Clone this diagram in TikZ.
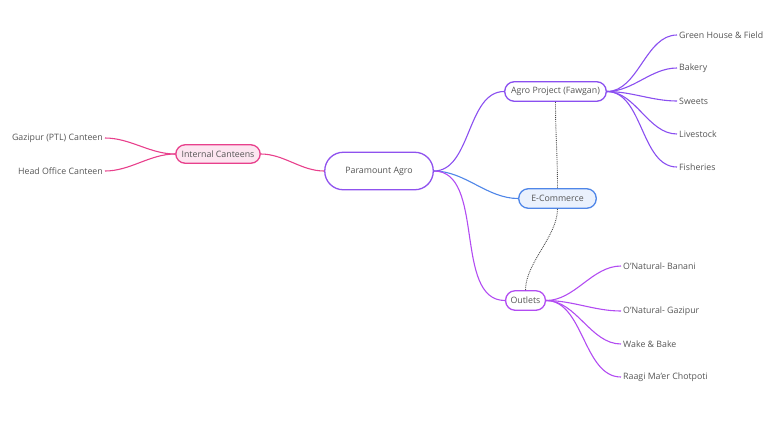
\documentclass[tikz,border=0pt]{standalone}
\usepackage{fontspec}
\setmainfont{Open Sans}
\usepackage{tikz}
\definecolor{txtgray}{HTML}{555555}
\definecolor{agroline}{HTML}{8A4FF0}
\definecolor{outletline}{HTML}{B24CF2}
\definecolor{canteenline}{HTML}{E8408C}
\definecolor{canteenfill}{HTML}{FCE5F0}
\definecolor{ecomline}{HTML}{4F86E8}
\definecolor{ecomfill}{HTML}{EAF1FD}
\definecolor{rootline}{HTML}{8F52EE}

\begin{document}
\begin{tikzpicture}[
    x=1pt, y=-1pt,
    font=\fontsize{8.8}{10}\selectfont, text=txtgray,
    topic/.style={draw, rounded corners=9.5pt, line width=1.3pt, minimum height=19.5pt, inner xsep=5pt, fill=white},
    leaf/.style={inner sep=2pt},
    branch/.style={line width=1.1pt, out=0, in=180, looseness=0.9},
    rbranch/.style={line width=1.1pt, out=180, in=0, looseness=0.9}
]
\useasboundingbox (0,0) rectangle (768,432);

% centre topic
\node[topic, draw=rootline, rounded corners=18.5pt, minimum width=108.5pt, minimum height=37.5pt] (root) at (379,171) {Paramount Agro};

% main branches
\node[topic, draw=canteenline, fill=canteenfill, minimum width=84.5pt, minimum height=18.5pt] (canteens) at (218,154) {Internal Canteens};
\node[topic, draw=agroline, minimum width=101.5pt] (agro) at (555.5,91.5) {Agro Project (Fawgan)};
\node[topic, draw=ecomline, fill=ecomfill, minimum width=77.5pt] (ecom) at (557.5,198.5) {E-Commerce};
\node[topic, draw=outletline, minimum width=39.5pt] (outlets) at (525.5,300.5) {Outlets};

% canteen leaves
\node[leaf, anchor=east] (ptl) at (105,138) {Gazipur (PTL) Canteen};
\node[leaf, anchor=east] (headoffice) at (105,171) {Head Office Canteen};

% agro leaves
\node[leaf, anchor=west] (greenhouse) at (677,35) {Green House \& Field};
\node[leaf, anchor=west] (bakery) at (677,68) {Bakery};
\node[leaf, anchor=west] (sweets) at (677,101) {Sweets};
\node[leaf, anchor=west] (livestock) at (677,134) {Livestock};
\node[leaf, anchor=west] (fisheries) at (677,167) {Fisheries};

% outlet leaves
\node[leaf, anchor=west] (banani) at (621,266) {O’Natural- Banani};
\node[leaf, anchor=west] (gazipur) at (621,311) {O’Natural- Gazipur};
\node[leaf, anchor=west] (wakebake) at (621,344) {Wake \& Bake};
\node[leaf, anchor=west] (raagi) at (621,377) {Raagi Ma’er Chotpoti};

% connectors
\draw[branch, agroline] (root.east) to (agro.west);
\draw[branch, ecomline] (root.east) to (ecom.west);
\draw[branch, outletline] (root.east) to (outlets.west);
\draw[rbranch, canteenline] (root.west) to (canteens.east);
\draw[rbranch, canteenline] (canteens.west) to (ptl.east);
\draw[rbranch, canteenline] (canteens.west) to (headoffice.east);
\foreach \leafname in {greenhouse, bakery, sweets, livestock, fisheries}
    \draw[branch, agroline] (agro.east) to (\leafname.west);
\foreach \leafname in {banani, gazipur, wakebake, raagi}
    \draw[branch, outletline] (outlets.east) to (\leafname.west);

% relation lines
\draw[densely dotted, line width=0.9pt, black!70] (agro.south) to[out=-90, in=90] (ecom.north);
\draw[densely dotted, line width=0.9pt, black!70] (ecom.south) to[out=-90, in=90, looseness=0.8] (outlets.north);
\end{tikzpicture}
\end{document}
